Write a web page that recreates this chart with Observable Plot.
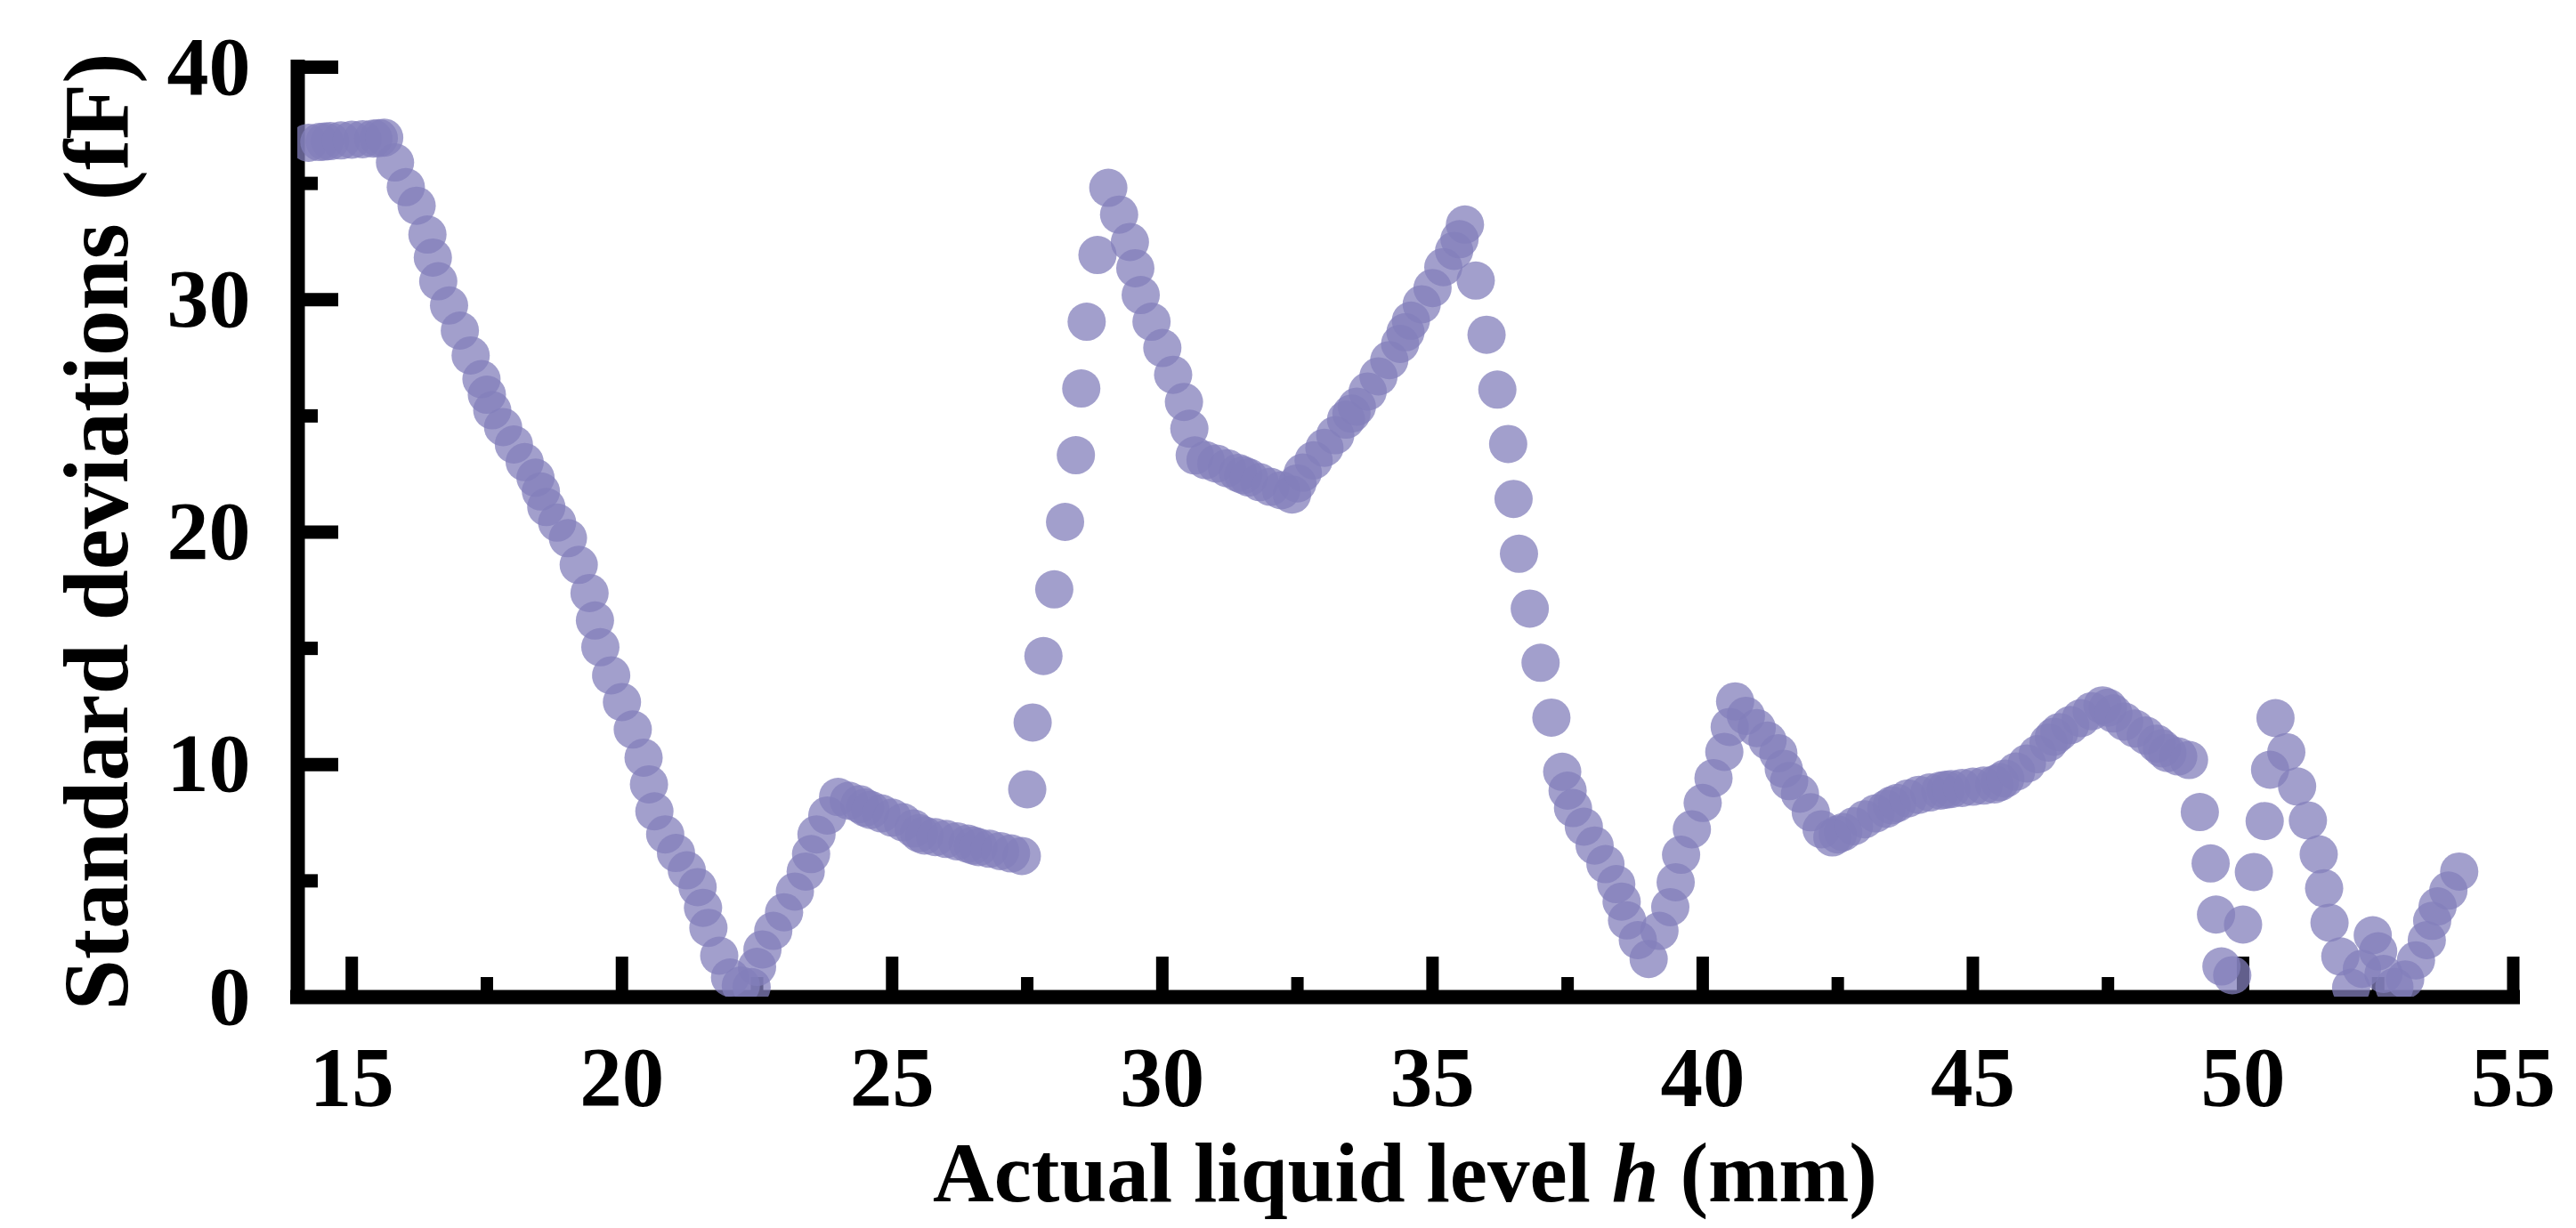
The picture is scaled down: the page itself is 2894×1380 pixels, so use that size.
<!DOCTYPE html>
<html>
<head>
<meta charset="utf-8">
<script src="https://cdn.jsdelivr.net/npm/d3@7"></script>
<script src="https://cdn.jsdelivr.net/npm/@observablehq/plot@0.6"></script>
<style>
  html, body { margin: 0; padding: 0; background: #ffffff; }
  #chart svg { display: block; }
</style>
</head>
<body>
<div id="chart"></div>
<script>
// Actual liquid level h (mm)
const levels = [
  14.2, 14.4, 14.5, 14.6, 14.8, 15.0, 15.2, 15.4, 15.5, 15.6, 15.8,
  16.0, 16.2, 16.4, 16.5, 16.6, 16.8, 17.0, 17.2, 17.4, 17.5, 17.6, 17.8,
  18.0, 18.2, 18.4, 18.5, 18.6, 18.8, 19.0, 19.2, 19.4, 19.5, 19.6, 19.8,
  20.0, 20.2, 20.4, 20.5, 20.6, 20.8, 21.0, 21.2, 21.4, 21.5, 21.6, 21.8,
  22.0, 22.2, 22.4, 22.5, 22.6, 22.8, 23.0, 23.2, 23.4, 23.5, 23.6, 23.8,
  24.0, 24.2, 24.4, 24.5, 24.6, 24.8, 25.0, 25.2, 25.4, 25.5, 25.6, 25.8,
  26.0, 26.2, 26.4, 26.5, 26.6, 26.8, 27.0, 27.2, 27.4, 27.5, 27.6, 27.8,
  28.0, 28.2, 28.4, 28.5, 28.6, 28.8, 29.0, 29.2, 29.4, 29.5, 29.6, 29.8,
  30.0, 30.2, 30.4, 30.5, 30.6, 30.8, 31.0, 31.2, 31.4, 31.5, 31.6, 31.8,
  32.0, 32.2, 32.4, 32.5, 32.6, 32.8, 33.0, 33.2, 33.4, 33.5, 33.6, 33.8,
  34.0, 34.2, 34.4, 34.5, 34.6, 34.8, 35.0, 35.2, 35.4, 35.5, 35.6, 35.8,
  36.0, 36.2, 36.4, 36.5, 36.6, 36.8, 37.0, 37.2, 37.4, 37.5, 37.6, 37.8,
  38.0, 38.2, 38.4, 38.5, 38.6, 38.8, 39.0, 39.2, 39.4, 39.5, 39.6, 39.8,
  40.0, 40.2, 40.4, 40.5, 40.6, 40.8, 41.0, 41.2, 41.4, 41.5, 41.6, 41.8,
  42.0, 42.2, 42.4, 42.5, 42.6, 42.8, 43.0, 43.2, 43.4, 43.5, 43.6, 43.8,
  44.0, 44.2, 44.4, 44.5, 44.6, 44.8, 45.0, 45.2, 45.4, 45.5, 45.6, 45.8,
  46.0, 46.2, 46.4, 46.5, 46.6, 46.8, 47.0, 47.2, 47.4, 47.5, 47.6, 47.8,
  48.0, 48.2, 48.4, 48.5, 48.6, 48.8, 49.0, 49.2, 49.4, 49.5, 49.6, 49.8,
  50.0, 50.2, 50.4, 50.5, 50.6, 50.8, 51.0, 51.2, 51.4, 51.5, 51.6, 51.8,
  52.0, 52.2, 52.4, 52.5, 52.6, 52.8, 53.0, 53.2, 53.4, 53.5, 53.6, 53.8,
  54.0
];

// Standard deviations (fF)
const deviations = [
  36.75, 36.78, 36.80, 36.82, 36.85, 36.88, 36.90, 36.93, 36.95, 36.97, 35.90,
  34.84, 34.04, 32.80, 31.81, 30.79, 29.75, 28.67, 27.60, 26.58, 25.91, 25.24, 24.52,
  23.77, 23.01, 22.34, 21.75, 21.08, 20.41, 19.74, 18.59, 17.38, 16.20, 15.05, 13.84,
  12.69, 11.51, 10.30, 9.15, 7.99, 7.00, 6.20, 5.45, 4.73, 3.84, 2.98, 1.78,
  0.84, 0.50, 0.43, 1.30, 2.05, 2.85, 3.65, 4.54, 5.40, 6.15, 7.00, 7.81,
  8.61, 8.45, 8.30, 8.15, 8.05, 7.90, 7.72, 7.52, 7.25, 7.05, 6.95, 6.88,
  6.80, 6.70, 6.60, 6.52, 6.45, 6.38, 6.28, 6.18, 6.07, 8.94, 11.81, 14.67,
  17.54, 20.44, 23.31, 26.18, 29.05, 31.92, 34.81, 33.66, 32.48, 31.35, 30.20, 29.05,
  27.92, 26.77, 25.60, 24.45, 23.30, 23.10, 22.95, 22.75, 22.55, 22.45, 22.35, 22.15,
  21.95, 21.80, 21.62, 22.10, 22.56, 23.09, 23.63, 24.17, 24.84, 25.10, 25.40, 26.05,
  26.70, 27.40, 28.10, 28.60, 29.10, 29.80, 30.50, 31.40, 32.10, 32.60, 33.23, 30.82,
  28.49, 26.13, 23.79, 21.43, 19.07, 16.71, 14.38, 12.02, 9.69, 8.88, 8.13, 7.33,
  6.52, 5.72, 4.86, 4.11, 3.30, 2.45, 1.64, 2.85, 3.87, 4.94, 6.12, 7.22,
  8.35, 9.42, 10.55, 11.62, 12.72, 12.10, 11.57, 11.03, 10.49, 9.82, 9.29, 8.75,
  7.95, 7.22, 6.87, 7.00, 7.10, 7.35, 7.65, 7.90, 8.10, 8.25, 8.35, 8.55,
  8.70, 8.80, 8.88, 8.92, 8.95, 9.00, 9.05, 9.10, 9.15, 9.25, 9.40, 9.70,
  10.05, 10.45, 10.95, 11.20, 11.40, 11.70, 12.00, 12.30, 12.55, 12.45, 12.20, 11.85,
  11.55, 11.25, 10.90, 10.70, 10.50, 10.35, 10.20, 7.96, 5.75, 3.55, 1.32, 0.94,
  3.12, 5.38, 7.57, 9.78, 12.00, 10.54, 9.06, 7.60, 6.14, 4.68, 3.20, 1.75,
  0.40, 1.22, 2.66, 1.97, 1.00, 0.44, 0.76, 1.58, 2.45, 3.28, 3.90, 4.58,
  5.40
];

const xTicks = [15, 20, 25, 30, 35, 40, 45, 50, 55];
const xMinorTicks = [17.5, 22.5, 27.5, 32.5, 37.5, 42.5, 47.5, 52.5];
const yTicks = [0, 10, 20, 30, 40];
const yMinorTicks = [5, 15, 25, 35];

const xDomain = [14, 55];
const yDomain = [0, 40];

const xTitlePlain = "Actual liquid level ";
const xTitleItalic = "h";
const xTitleTail = " (mm)";
const yTitle = "Standard deviations (fF)";

const data = levels.map((h, i) => ({h, sd: deviations[i]}));

const W = 2894, H = 1380;
const mL = 334, mR = 71, mT = 75, mB = 260;
const black = "#000000";
const dotColor = "rgb(131,127,187)";

// tick lengths expressed in data units of the perpendicular scale
const pxPerX = (W - mL - mR) / (xDomain[1] - xDomain[0]);
const pxPerY = (H - mT - mB) / (yDomain[1] - yDomain[0]);
const majorLenY = 45 / pxPerY, minorLenY = 22 / pxPerY;
const majorLenX = 46 / pxPerX, minorLenX = 23 / pxPerX;

const svg = Plot.plot({
  width: W,
  height: H,
  marginLeft: mL,
  marginRight: mR,
  marginTop: mT,
  marginBottom: mB,
  style: {fontFamily: "'Liberation Serif', 'Times New Roman', serif", fontWeight: "bold", background: "#ffffff", color: black},
  x: {domain: xDomain, label: null},
  y: {domain: yDomain, label: null},
  marks: [
    // x ticks (inward)
    Plot.ruleX(xTicks, {x: d => d, y1: 0, y2: majorLenY, stroke: black, strokeWidth: 14}),
    Plot.ruleX(xMinorTicks, {x: d => d, y1: 0, y2: minorLenY, stroke: black, strokeWidth: 14}),
    // y ticks (inward)
    Plot.ruleY(yTicks, {y: d => d, x1: xDomain[0], x2: xDomain[0] + majorLenX, stroke: black, strokeWidth: 15}),
    Plot.ruleY(yMinorTicks, {y: d => d, x1: xDomain[0], x2: xDomain[0] + minorLenX, stroke: black, strokeWidth: 15}),
    // axis lines
    Plot.ruleY([0], {x1: xDomain[0], x2: xDomain[1], stroke: black, strokeWidth: 16, strokeLinecap: "square"}),
    Plot.ruleX([xDomain[0]], {y1: yDomain[0], y2: yDomain[1], stroke: black, strokeWidth: 16, strokeLinecap: "square"}),
    Plot.axisX(xTicks, {tickSize: 0, tickPadding: 55, fontSize: 95, fontWeight: "bold", label: null}),
    Plot.axisY(yTicks, {tickSize: 0, tickPadding: 53, fontSize: 94, fontWeight: "bold", label: null}),
    Plot.dot(data, {x: "h", y: "sd", r: 21.5, fill: dotColor, fillOpacity: 0.75, stroke: "none", clip: true})
  ]
});

const s = d3.select(svg);
const xt = s.append("text")
  .attr("x", mL + (W - mL - mR) / 2)
  .attr("y", 1350)
  .attr("text-anchor", "middle")
  .attr("font-size", 95)
  .attr("font-weight", "bold")
  .attr("fill", black);
xt.append("tspan").text(xTitlePlain);
xt.append("tspan").attr("font-style", "italic").text(xTitleItalic);
xt.append("tspan").text(xTitleTail);

s.append("text")
  .attr("transform", `translate(143, ${mT + (H - mT - mB) / 2}) rotate(-90)`)
  .attr("text-anchor", "middle")
  .attr("font-size", 103)
  .attr("font-weight", "bold")
  .attr("fill", black)
  .text(yTitle);

document.getElementById("chart").appendChild(svg);
</script>
</body>
</html>
